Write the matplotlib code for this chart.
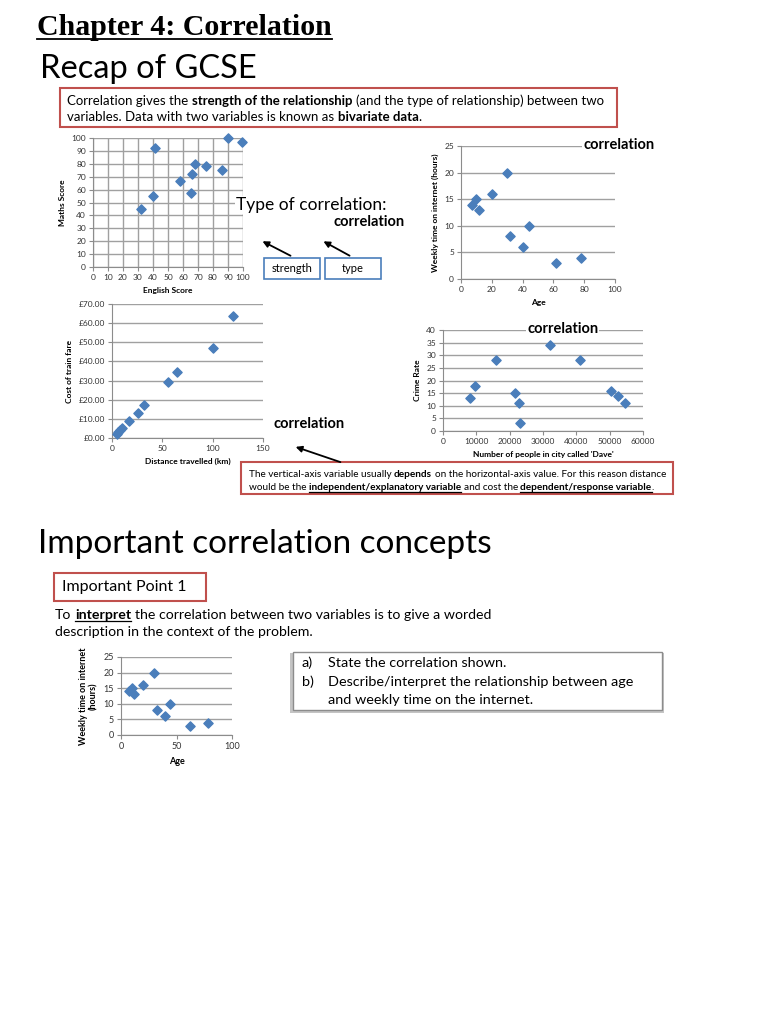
import matplotlib
matplotlib.use("Agg")
import matplotlib.pyplot as plt
from matplotlib.lines import Line2D
from matplotlib.patches import Rectangle, FancyArrowPatch
from matplotlib.ticker import FuncFormatter

plt.rcParams['font.family'] = ['Lato', 'DejaVu Sans']

eng_score = [32, 40, 41, 58, 65, 66, 68, 75, 86, 90, 99]
maths_score = [45, 55, 92, 67, 57, 72, 80, 78, 75, 100, 97]

age = [7, 10, 12, 20, 30, 32, 40, 44, 62, 78]
web_hours = [14, 15, 13, 16, 20, 8, 6, 10, 3, 4]

distance_km = [5, 6, 8, 10, 17, 26, 32, 56, 65, 100, 120]
fare_gbp = [2.3, 3, 4, 5, 9, 13.3, 17, 29, 34.5, 47, 63.5]

daves = [8000, 9500, 15800, 21500, 22800, 23200, 32000, 41000, 50500, 52500, 54500]
crime_rate = [13, 18, 28, 15, 11, 3, 34, 28, 16, 14, 11]

W, H = 768, 1024
BLUE = '#4A7EBB'
RED = '#C0504D'

fig = plt.figure(figsize=(W / 100, H / 100), dpi=100)
renderer = fig.canvas.get_renderer()


def fx(px):
    return px / W


def fy(py):
    return 1 - py / H


def space_w(size, weight):
    a = fig.text(0, 0, 'a a', fontsize=size, fontweight=weight)
    b = fig.text(0, 0, 'aa', fontsize=size, fontweight=weight)
    w = a.get_window_extent(renderer).width - b.get_window_extent(renderer).width
    a.remove()
    b.remove()
    return w


def rich(x, y, parts, size, color='black'):
    # parts: (text, bold, underline), y is the baseline in pixels from the top
    cx = x
    for s, bold, under in parts:
        weight = 'bold' if bold else 'normal'
        sp = space_w(size, weight)
        lead = len(s) - len(s.lstrip(' '))
        trail = len(s) - len(s.rstrip(' '))
        cx += lead * sp
        s = s.strip(' ')
        t = fig.text(fx(cx), fy(y), s, fontsize=size, fontweight=weight,
                     va='baseline', ha='left', color=color)
        w = t.get_window_extent(renderer).width
        if under:
            fig.add_artist(Line2D([fx(cx), fx(cx + w)], [fy(y + 2)] * 2,
                                  color=color, lw=0.9))
        cx += w + trail * sp


def box(x0, y0, x1, y1, color, lw=1.5, shadow=False):
    if shadow:
        fig.add_artist(Rectangle((fx(x0 - 3), fy(y1 + 3)), (x1 - x0 + 5) / W, (y1 - y0 + 2) / H,
                                 transform=fig.transFigure, facecolor='#c4c4c4',
                                 edgecolor='none'))
    fig.add_artist(Rectangle((fx(x0), fy(y1)), (x1 - x0) / W, (y1 - y0) / H,
                             transform=fig.transFigure, facecolor='white',
                             edgecolor=color, lw=lw))


def arrow(x0, y0, x1, y1):
    fig.add_artist(FancyArrowPatch((fx(x0), fy(y0)), (fx(x1), fy(y1)),
                                   transform=fig.transFigure, arrowstyle='-|>',
                                   mutation_scale=9, lw=1.3, color='black'))


def chart(x0, x1, ytop, ybot, xs, ys, xlim, ylim, xstep, ystep, xlabel, ylabel,
          grid_x=False, tsize=6, lsize=6):
    ax = fig.add_axes([fx(x0), fy(ybot), (x1 - x0) / W, (ybot - ytop) / H])
    ax.scatter(xs, ys, marker='D', s=22, color=BLUE, zorder=3, clip_on=False)
    ax.set_xlim(*xlim)
    ax.set_ylim(*ylim)
    ax.set_xticks(range(xlim[0], xlim[1] + 1, xstep))
    ax.set_yticks(range(ylim[0], ylim[1] + 1, ystep))
    ax.grid(axis='y', color='#a0a0a0', lw=1.0)
    if grid_x:
        ax.grid(axis='x', color='#a0a0a0', lw=1.0)
    ax.set_axisbelow(True)
    for s in ['top', 'right']:
        ax.spines[s].set_visible(False)
    for s in ['left', 'bottom']:
        ax.spines[s].set_color('#8c8c8c')
    ax.tick_params(length=3, width=0.8, color='#8c8c8c', labelsize=tsize, pad=2,
                   labelcolor='#333333')
    ax.set_xlabel(xlabel, fontsize=lsize, fontweight='bold', labelpad=4)
    ax.set_ylabel(ylabel, fontsize=lsize, fontweight='bold', labelpad=4)
    return ax


# headings
t = fig.text(fx(37), fy(35), 'Chapter 4: Correlation', fontsize=21.5, fontweight='bold',
             family='Liberation Serif', va='baseline')
tw = t.get_window_extent(renderer).width
fig.add_artist(Line2D([fx(37), fx(37 + tw)], [fy(39)] * 2, color='black', lw=1.3))
fig.text(fx(40), fy(78), 'Recap of GCSE', fontsize=23.5, va='baseline')

box(60, 88, 617, 127, RED)
rich(67, 105, [('Correlation gives the ', 0, 0), ('strength of the relationship', 1, 0),
               (' (and the type of relationship) between two', 0, 0)], 9.5)
rich(67, 121, [('variables. Data with two variables is known as ', 0, 0),
               ('bivariate data', 1, 0), ('.', 0, 0)], 9.5)

# scatter 1: maths vs english
chart(93, 243, 138, 267, eng_score, maths_score, (0, 100), (0, 100), 10, 10,
      'English Score', 'Maths Score', grid_x=True)

fig.text(fx(236), fy(205), 'Type of correlation:', fontsize=12.5, va='center',
         bbox=dict(facecolor='white', edgecolor='none', pad=1))
fig.text(fx(333), fy(222), 'correlation', fontsize=10.5, fontweight='bold', va='center')

box(264, 258, 320, 279, BLUE, lw=1.2)
box(325, 258, 381, 279, BLUE, lw=1.2)
fig.text(fx(292), fy(269), 'strength', fontsize=8, ha='center', va='center')
fig.text(fx(353), fy(269), 'type', fontsize=8, ha='center', va='center')
arrow(293, 257, 260, 240)
arrow(352, 257, 321, 240)

# scatter 2: internet time vs age
chart(461, 615, 146, 279, age, web_hours, (0, 100), (0, 25), 20, 5,
      'Age', 'Weekly time on internet (hours)')
fig.text(fx(583), fy(145), 'correlation', fontsize=10.5, fontweight='bold', va='center',
         bbox=dict(facecolor='white', edgecolor='none', pad=0.5))

# scatter 3: train fare vs distance
ax3 = chart(112, 263, 304, 438, distance_km, fare_gbp, (0, 150), (0, 70), 50, 10,
            'Distance travelled (km)', 'Cost of train fare')
ax3.yaxis.set_major_formatter(FuncFormatter(lambda v, p: '£%.2f' % v))
fig.text(fx(273), fy(424), 'correlation', fontsize=10.5, fontweight='bold', va='center')

# scatter 4: crime rate vs daves
chart(443, 643, 330, 431, daves, crime_rate, (0, 60000), (0, 40), 10000, 5,
      "Number of people in city called 'Dave'", 'Crime Rate')
fig.text(fx(527), fy(329), 'correlation', fontsize=10.5, fontweight='bold', va='center',
         bbox=dict(facecolor='white', edgecolor='none', pad=0.5))

box(241, 462, 673, 494, RED)
arrow(343, 463, 293, 446)
rich(249, 477, [('The vertical-axis variable usually ', 0, 0), ('depends', 1, 0),
                (' on the horizontal-axis value. For this reason distance', 0, 0)], 7.2)
rich(249, 490, [('would be the ', 0, 0), ('independent/explanatory variable', 1, 1),
                (' and cost the ', 0, 0), ('dependent/response variable', 1, 1),
                ('.', 0, 0)], 7.2)

# second section
fig.text(fx(38), fy(553), 'Important correlation concepts', fontsize=24, va='baseline')
box(54, 573, 206, 601, RED)
fig.text(fx(62), fy(587), 'Important Point 1', fontsize=11.5, va='center')
rich(55, 619, [('To ', 0, 0), ('interpret', 1, 1),
               (' the correlation between two variables is to give a worded', 0, 0)], 10.2)
rich(55, 636, [('description in the context of the problem.', 0, 0)], 10.2)

chart(121, 232, 657, 735, age, web_hours, (0, 100), (0, 25), 50, 5,
      'Age', 'Weekly time on internet\n(hours)', tsize=6.5, lsize=6.5)

box(293, 652, 662, 710, '#8c8c8c', lw=1.0, shadow=True)
fig.text(fx(302), fy(667), 'a)', fontsize=10.4, va='baseline')
fig.text(fx(328), fy(667), 'State the correlation shown.', fontsize=10.4, va='baseline')
fig.text(fx(302), fy(686), 'b)', fontsize=10.4, va='baseline')
fig.text(fx(328), fy(686), 'Describe/interpret the relationship between age',
         fontsize=10.4, va='baseline')
fig.text(fx(328), fy(704), 'and weekly time on the internet.', fontsize=10.4, va='baseline')

fig.savefig('out.png', dpi=100)
